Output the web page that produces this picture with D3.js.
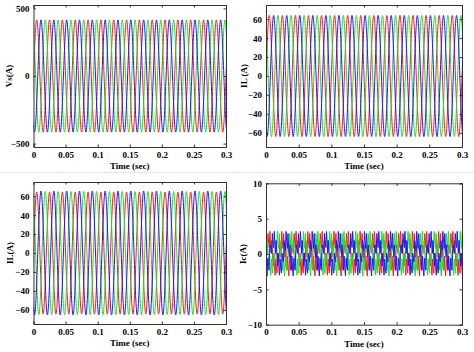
<!DOCTYPE html>
<html>
<head>
<meta charset="utf-8">
<script src="https://cdn.jsdelivr.net/npm/d3@7"></script>
<style>
  body { margin: 0; background: #fff; }
  svg { display: block; }
  text { font-family: "Liberation Serif", "Times New Roman", serif; font-weight: bold; font-size: 9px; fill: #000; }
</style>
</head>
<body>
<script>
var width = 474, height = 352;

// axis ticks
var timeTicks = [0, 0.05, 0.1, 0.15, 0.2, 0.25, 0.3];
var vsTicks = [-500, 0, 500];
var ilTicks = [-60, -40, -20, 0, 20, 40, 60];
var icTicks = [-10, -5, 0, 5, 10];

// three phases: a (red), b (blue), c (green); phase angle in degrees
var phases = ['a', 'b', 'c'];
var phaseShift = [0, -120, 120];
var freq = 50; // Hz, ~15 cycles in 0.3 s

// peak values, per phase
var vsPeak = [415, 415, 415];
var ilPeak = [64, 64, 64];
var ilLoadPeak = [64.5, 65.5, 65];

// compensator current, two cycles sampled every 1 ms (ripple on top of ~2 A fundamental)
var icWave = [1.3, 0.4, 0.1, 2.9, 1.7, 0.9, 3.2, 1.4, 0.1, 1.9,
              -0.2, -1.7, 0.1, -1.8, -3.0, -0.7, -2.1, -2.7, 0.1, -0.8,
              -1.1, 1.9, 1.0, 0.5, 3.2, 1.8, 0.8, 2.9, 1.0, -0.5,
              1.3, -0.8, -2.3, -0.3, -2.1, -3.1, -0.6, -1.8, -2.3, 0.7];

var colors = { a: '#ff1a1a', b: '#1a1aff', c: '#1ee01e' };
var drawOrder = ['a', 'c', 'b'];

var svg = d3.select('body').append('svg')
  .attr('width', width)
  .attr('height', height);

// faint seam between the two rows
svg.append('line')
  .attr('x1', 0).attr('x2', width)
  .attr('y1', 172.5).attr('y2', 172.5)
  .attr('stroke', '#e6e6e6');

var panels = [
  { id: 'p1', x0: 33.5, x1: 226, y0: 5, y1: 147, dom: [-525, 525], ticks: vsTicks, label: 'Vs(A)', lx: 8.5, kind: 'sine', peak: vsPeak },
  { id: 'p2', x0: 266, x1: 462, y0: 5, y1: 147, dom: [-75, 75], ticks: ilTicks, label: 'IL (A)', lx: 243.5, kind: 'sine', peak: ilPeak },
  { id: 'p3', x0: 33.5, x1: 226, y0: 182, y1: 324, dom: [-75, 75], ticks: ilTicks, label: 'IL(A)', lx: 10, kind: 'sine', peak: ilLoadPeak },
  { id: 'p4', x0: 266, x1: 462, y0: 183.3, y1: 324.7, dom: [-10, 10], ticks: icTicks, label: 'Ic(A)', lx: 243, kind: 'ripple' }
];

// extrema of each sinusoid, joined with a monotone curve
function sinePoints(peak, shift) {
  var pts = [];
  for (var k = -2; k < 40; k++) {
    var t = (0.25 + k / 2 - shift / 360) / freq;
    if (t < -0.03 || t > 0.33) continue;
    pts.push([t, (k % 2 === 0 ? 1 : -1) * peak]);
  }
  return pts;
}

function ripplePoints(shift) {
  var pts = [];
  var dt = 0.001, off = shift / 360 / freq;
  for (var c = -1; c < 9; c++) {
    icWave.forEach(function(v, i) {
      pts.push([c * 0.04 + i * dt - off, v]);
    });
  }
  return pts;
}

panels.forEach(function(p) {
  var x = d3.scaleLinear().domain([0, 0.3]).range([p.x0, p.x1]);
  var y = d3.scaleLinear().domain(p.dom).range([p.y1, p.y0]);
  var g = svg.append('g');

  g.append('clipPath').attr('id', 'clip-' + p.id)
    .append('rect')
    .attr('x', p.x0).attr('y', p.y0)
    .attr('width', p.x1 - p.x0).attr('height', p.y1 - p.y0);

  var plot = g.append('g').attr('clip-path', 'url(#clip-' + p.id + ')');
  drawOrder.forEach(function(ph) {
    var i = phases.indexOf(ph);
    var pts, line;
    if (p.kind === 'sine') {
      pts = sinePoints(p.peak[i], phaseShift[i]);
      line = d3.line().x(d => x(d[0])).y(d => y(d[1])).curve(d3.curveMonotoneX);
    } else {
      pts = ripplePoints(phaseShift[i]);
      line = d3.line().x(d => x(d[0])).y(d => y(d[1]));
    }
    plot.append('path')
      .attr('d', line(pts))
      .attr('fill', 'none')
      .attr('stroke', colors[ph])
      .attr('stroke-width', 1);
  });

  // axes, ticks inward on all sides
  var bottom = d3.axisBottom(x).tickValues(timeTicks).tickSize(-2.5).tickPadding(4)
    .tickFormat(d => d === 0 ? '0' : d3.format('~g')(d));
  var top = d3.axisTop(x).tickValues(timeTicks).tickSize(-2.5).tickFormat('');
  var left = d3.axisLeft(y).tickValues(p.ticks).tickSize(-2.5).tickPadding(4);
  var right = d3.axisRight(y).tickValues(p.ticks).tickSize(-2.5).tickFormat('');

  var gb = g.append('g').attr('transform', 'translate(0,' + p.y1 + ')').call(bottom);
  var gt = g.append('g').attr('transform', 'translate(0,' + p.y0 + ')').call(top);
  var gl = g.append('g').attr('transform', 'translate(' + p.x0 + ',0)').call(left);
  var gr = g.append('g').attr('transform', 'translate(' + p.x1 + ',0)').call(right);
  [gb, gt, gl, gr].forEach(function(a) {
    a.select('.domain').attr('stroke', '#333');
    a.selectAll('.tick line').attr('stroke', '#333');
    a.selectAll('text').attr('font-family', null).attr('font-size', null).attr('fill', '#000');
  });
  gb.selectAll('.tick text').attr('dy', '0.75em');

  g.append('text')
    .attr('x', (p.x0 + p.x1) / 2)
    .attr('y', p.y1 + 22)
    .attr('text-anchor', 'middle')
    .text('Time (sec)');

  g.append('text')
    .attr('transform', 'translate(' + p.lx + ',' + (p.y0 + p.y1) / 2 + ') rotate(-90)')
    .attr('text-anchor', 'middle')
    .attr('dy', '0.35em')
    .text(p.label);
});
</script>
</body>
</html>
